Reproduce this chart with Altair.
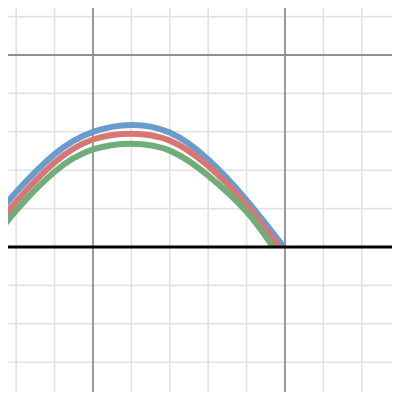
import altair as alt
import pandas as pd

# Curve samples (x, y in graph units)
blue_x = [2.58, 3.0, 4.0, 5.0, 6.0, 7.0, 8.0, 9.0, 9.97]
blue_y = [0.92, 1.43, 2.42, 3.0, 3.18, 2.98, 2.28, 1.22, 0.0]
red_x = [2.58, 3.0, 4.0, 5.0, 6.0, 7.0, 8.0, 9.0, 9.84]
red_y = [0.67, 1.18, 2.2, 2.8, 2.95, 2.77, 2.11, 1.09, 0.0]
green_x = [2.58, 3.0, 4.0, 5.0, 6.0, 7.0, 8.0, 9.0, 9.69]
green_y = [0.41, 0.95, 1.96, 2.54, 2.69, 2.51, 1.86, 0.92, 0.0]

# Grid values
minor_x = [3, 4, 6, 7, 8, 9, 11, 12]
major_x = [5, 10]
minor_y = [-3, -2, -1, 1, 2, 3, 4, 6]
major_y = [5]
axis_y = [0]

X_DOMAIN = [2.7865, 12.7865]
Y_DOMAIN = [-3.776, 6.224]

xs = alt.Scale(domain=X_DOMAIN, nice=False, zero=False)
ys = alt.Scale(domain=Y_DOMAIN, nice=False, zero=False)

def vrules(vals, color, width):
    return alt.Chart(pd.DataFrame({"v": vals})).mark_rule(
        color=color, strokeWidth=width
    ).encode(x=alt.X("v:Q", scale=xs, axis=None))

def hrules(vals, color, width):
    return alt.Chart(pd.DataFrame({"v": vals})).mark_rule(
        color=color, strokeWidth=width
    ).encode(y=alt.Y("v:Q", scale=ys, axis=None))

def curve(xv, yv, color):
    df = pd.DataFrame({"x": xv, "y": yv})
    return alt.Chart(df).mark_line(
        color=color, strokeWidth=6, interpolate="natural", clip=True
    ).encode(
        x=alt.X("x:Q", scale=xs, axis=None),
        y=alt.Y("y:Q", scale=ys, axis=None),
        order="x:Q",
    )

chart = alt.layer(
    vrules(minor_x, "#e2e2e2", 1.6),
    hrules(minor_y, "#e2e2e2", 1.6),
    vrules(major_x, "#8f8f8f", 1.8),
    hrules(major_y, "#8f8f8f", 1.8),
    curve(blue_x, blue_y, "#6a9bcd"),
    curve(red_x, red_y, "#d87674"),
    curve(green_x, green_y, "#70ad79"),
    hrules(axis_y, "#000000", 3),
).properties(
    width=384, height=384, padding=0,
    autosize=alt.AutoSizeParams(type="none"),
).configure_view(stroke=None)

chart.save("out.html", embed_options={"renderer": "svg", "actions": False})
